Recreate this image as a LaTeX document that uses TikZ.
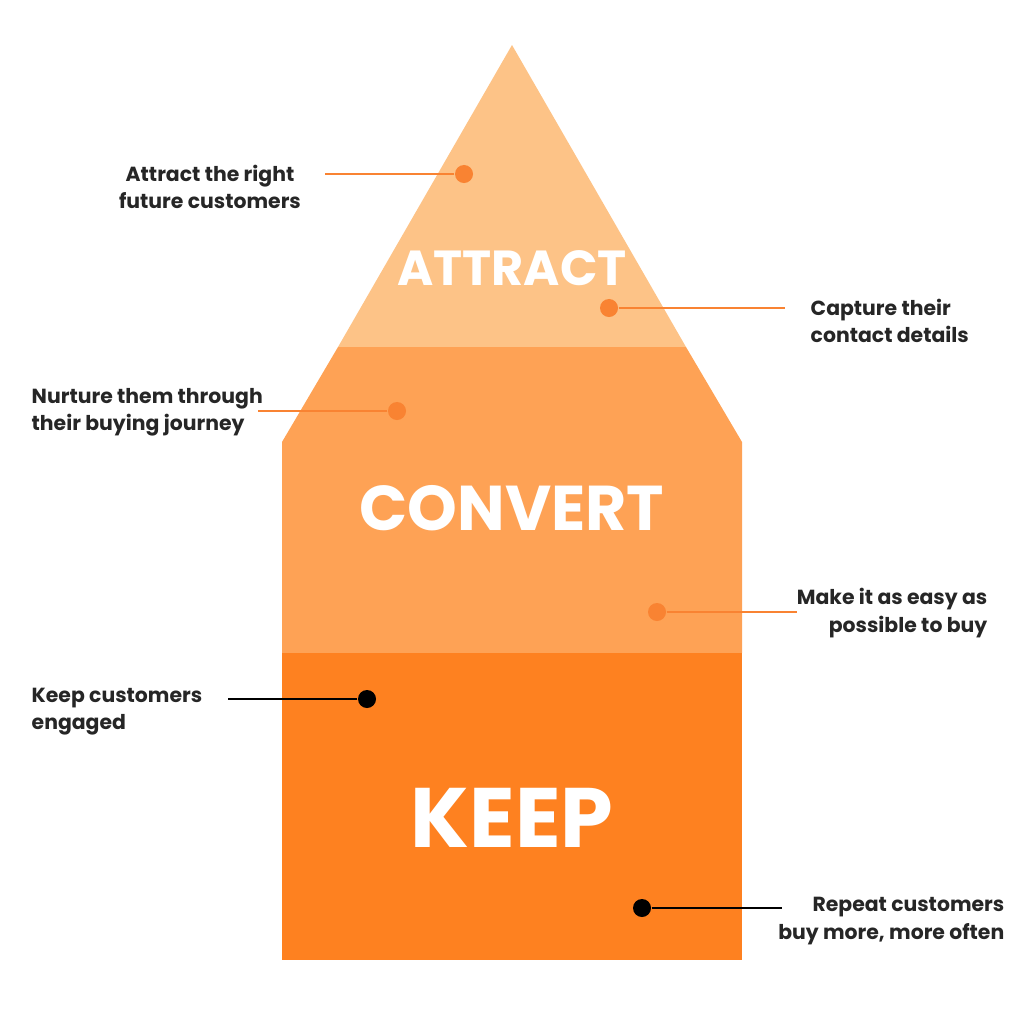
\documentclass[tikz,border=0pt]{standalone}
\usepackage{fontspec}
\setmainfont{Poppins}
\usepackage{tikz}
\definecolor{attractc}{HTML}{FDC387}
\definecolor{convertc}{HTML}{FEA255}
\definecolor{keepc}{HTML}{FE8120}
\definecolor{linec}{HTML}{F98332}
\tikzset{
  note/.style={font=\fontsize{5.8}{7.7}\selectfont\bfseries, text=black!85, inner sep=0pt},
  stage/.style={text=white, font=\bfseries, inner sep=0pt},
  dot/.style={circle, fill=linec, minimum size=0.18cm, inner sep=0pt},
  bdot/.style={circle, fill=black, minimum size=0.18cm, inner sep=0pt},
}
\begin{document}
\begin{tikzpicture}[x=0.01cm,y=-0.01cm]
    \useasboundingbox (0,0) rectangle (1024,1024);
    \fill[attractc] (512,45) -- (686,347) -- (338,347) -- cycle;
    \fill[convertc] (338,347) -- (686,347) -- (742,442) -- (742,653) -- (282,653) -- (282,442) -- cycle;
    \fill[keepc] (282,653) rectangle (742,960);
    \node[stage, font=\fontsize{14}{14}\selectfont\bfseries] (attract) at (512,268) {ATTRACT};
    \node[stage, font=\fontsize{18}{18}\selectfont\bfseries] (convert) at (512,508) {CONVERT};
    \node[stage, font=\fontsize{24}{24}\selectfont\bfseries] (keep) at (512,818) {KEEP};
    % callouts
    \node[dot] (d1) at (464,174) {};
    \coordinate (e1) at (325,174);
    \draw[linec, line width=0.6pt] (d1) -- (e1);
    \node[note, align=center] (t1) at (210,187) {Attract the right\\future customers};
    \node[dot] (d2) at (609,308) {};
    \coordinate (e2) at (785,308);
    \draw[linec, line width=0.6pt] (d2) -- (e2);
    \node[note, align=left, anchor=west] (t2) at (810,321) {Capture their\\contact details};
    \node[dot] (d3) at (397,411) {};
    \coordinate (e3) at (258,411);
    \draw[linec, line width=0.6pt] (d3) -- (e3);
    \node[note, align=left, anchor=west] (t3) at (31,412) {Nurture them through\\their buying journey};
    \node[dot] (d4) at (657,612) {};
    \coordinate (e4) at (797,612);
    \draw[linec, line width=0.6pt] (d4) -- (e4);
    \node[note, align=right, anchor=east] (t4) at (988,613) {Make it as easy as\\possible to buy};
    \node[bdot] (d5) at (367,699) {};
    \coordinate (e5) at (228,699);
    \draw[line width=0.6pt] (d5) -- (e5);
    \node[note, align=left, anchor=west] (t5) at (31,712) {Keep customers\\engaged};
    \node[bdot] (d6) at (642,908) {};
    \coordinate (e6) at (782,908);
    \draw[line width=0.6pt] (d6) -- (e6);
    \node[note, align=right, anchor=east] (t6) at (1005,921) {Repeat customers\\buy more, more often};
\end{tikzpicture}
\end{document}
